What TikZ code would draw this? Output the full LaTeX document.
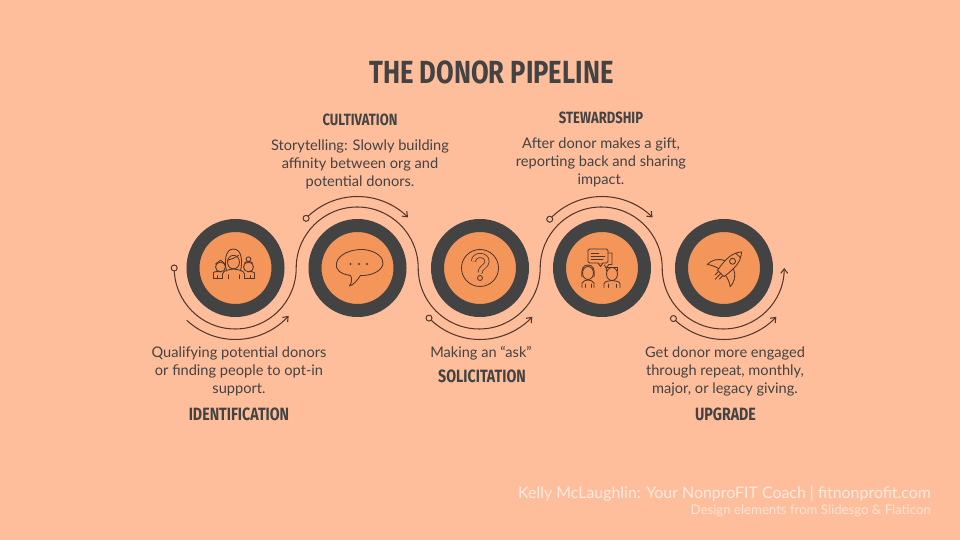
\documentclass[tikz,border=0pt]{standalone}
\usepackage{fontspec}
\setmainfont{Lato}
\newfontfamily\headbold[FakeStretch=0.8]{Fira Sans Bold}
\usetikzlibrary{arrows.meta,calc}
\definecolor{bgc}{HTML}{FFBE9B}
\definecolor{ringc}{HTML}{434343}
\definecolor{fillc}{HTML}{F4965A}
\definecolor{wirec}{HTML}{55362A}
\definecolor{footc}{HTML}{FFEADF}
\definecolor{footd}{HTML}{FFE4D4}
\tikzset{
  x=1pt,y=1pt,
  ringnode/.style={circle,draw=ringc,line width=13pt,fill=fillc,minimum size=85pt,inner sep=0pt},
  wire/.style={draw=wirec,line width=1.05pt},
  wiretip/.style={wire,-{Straight Barb[length=4.5pt,width=7pt,line width=1.05pt]}},
  dotend/.style={circle,draw=wirec,fill=bgc,line width=1pt,minimum size=6pt,inner sep=0pt},
  bodytext/.style={align=center,text=ringc,inner sep=0pt,font=\fontsize{14.6}{18}\selectfont},
  headtext/.style={align=center,text=ringc,inner sep=0pt,font=\headbold\fontsize{17.8}{20}\selectfont},
  headsmall/.style={headtext,font=\headbold\fontsize{16.3}{20}\selectfont},
  icon/.style={draw=wirec,line width=0.85pt,line cap=round,line join=round},
}
\begin{document}
\begin{tikzpicture}
\useasboundingbox (0,0) rectangle (960,540);
\fill[bgc] (0,0) rectangle (960,540);

% rings
\node[ringnode] (c1) at (235.5,272) {};
\node[ringnode] (c2) at (357.5,272) {};
\node[ringnode] (c3) at (480,272) {};
\node[ringnode] (c4) at (602,272) {};
\node[ringnode] (c5) at (724,272) {};

% serpentine
\coordinate (wstart) at ($(c1)+(-61.3,0)$);
\draw[wiretip] (wstart)
  arc[start angle=180,end angle=360,radius=61]
  arc[start angle=180,end angle=0,radius=61]
  arc[start angle=180,end angle=360,radius=61]
  arc[start angle=180,end angle=0,radius=61]
  arc[start angle=180,end angle=360,radius=61];
\node[dotend] (d1) at (wstart) {};

% outer arcs
\draw[wiretip] ($(c1)+(227:71.5)$) arc[start angle=227,end angle=318,radius=71.5];
\draw[wiretip] ($(c2)+(136:71.5)$) arc[start angle=136,end angle=45,radius=71.5];
\draw[wiretip] ($(c3)+(224.5:71.5)$) arc[start angle=224.5,end angle=317,radius=71.5];
\draw[wiretip] ($(c4)+(137:71.5)$) arc[start angle=137,end angle=45,radius=71.5];
\draw[wiretip] ($(c5)+(225:71.5)$) arc[start angle=225,end angle=317,radius=71.5];
\node[dotend] (d2) at ($(c2)+(136:71.5)$) {};
\node[dotend] (d3) at ($(c3)+(224.5:71.5)$) {};
\node[dotend] (d4) at ($(c4)+(137:71.5)$) {};
\node[dotend] (d5) at ($(c5)+(225:71.5)$) {};

% icon 1: people
\begin{scope}[shift={(c1)},shift={(0,2)},yscale=0.97,icon]
  \draw (-9,-5) .. controls (-11,3) and (-11,17.5) .. (-2,17.5) .. controls (7,17.5) and (7,3) .. (5,-5);
  \draw (-2,4) circle[x radius=6,y radius=7];
  \draw (-8,6) .. controls (-4,7) and (1,9) .. (3,11);
  \draw (-13,-13) -- (-13,-8) .. controls (-12,-4) and (-6,-4) .. (-2,-3) .. controls (2,-4) and (8,-4) .. (9,-8) -- (9,-13);
  \draw (-7,-13) -- (-7,-9) (4,-13) -- (4,-9);
  \draw (-15,-1) circle[radius=5];
  \draw (-20,2) -- (-15,6) -- (-10,2);
  \draw (-22,-13) -- (-22,-7) .. controls (-21,-5) and (-17,-6) .. (-14,-6);
  \draw (-22,-13) -- (-13,-13) (-18,-13) -- (-18,-10);
  \draw (13,-1) circle[radius=5];
  \draw (13,7) circle[radius=2.4];
  \draw (9,3) .. controls (10,5) and (16,5) .. (17,3);
  \draw (19,-13) -- (19,-7) .. controls (18,-5) and (15,-6) .. (12,-6);
  \draw (9,-13) -- (19,-13) (15,-13) -- (15,-10);
\end{scope}

% icon 2: speech bubble
\begin{scope}[shift={(c2)},icon]
  \draw (-7,-7.5) .. controls (-18,-6) and (-22.5,-1) .. (-21,5) .. controls (-19,14) and (-6,19) .. (6,18.5) .. controls (20,17) and (26,10) .. (25.5,4) .. controls (24,-4) and (12,-8) .. (3,-7.5) .. controls (0,-12) and (-4,-17) .. (-8,-18) .. controls (-6,-15) and (-5,-11) .. (-7,-7.5);
  \fill[wirec,draw=none] (-7,4) circle[radius=1.1] (1.5,4) circle[radius=1.1] (9.5,4) circle[radius=1.1];
\end{scope}

% icon 3: question mark
\begin{scope}[shift={(c3)},icon]
  \draw (0,0) circle[radius=18.5];
  \draw[line width=5pt,line cap=butt] (-6.5,6.5) .. controls (-6.5,14.5) and (7,14.5) .. (7,6.5) .. controls (7,1.5) and (0,1) .. (0,-5);
  \draw[line width=3.4pt,draw=fillc,line cap=butt] (-6.5,6.5) .. controls (-6.5,14.5) and (7,14.5) .. (7,6.5) .. controls (7,1.5) and (0,1) .. (0,-5);
  \draw (0,-10) circle[radius=2.5];
\end{scope}

% icon 4: two people talking
\begin{scope}[shift={(c4)},icon]
  \draw[rounded corners=1.5pt] (-14,19) rectangle (6,5);
  \fill[fillc,draw=none] (-4,5.5) rectangle (1,4.5);
  \draw (-4,5) -- (-1.5,1.5) -- (1,5);
  \draw (6,15) -- (10,15) -- (10,3.5) -- (7,3.5) -- (4,0) -- (2.5,3);
  \draw (-11,15) -- (-3,15) (-11,12) -- (3,12) (-11,9) -- (1,9);
  \draw (-14,-5) circle[x radius=5.5,y radius=6.5];
  \draw (-20,-9) .. controls (-21,-1) and (-19,3) .. (-14,3) .. controls (-9,3) and (-7,-1) .. (-8,-9);
  \draw (-20,-19.5) -- (-20,-15) .. controls (-19,-13) and (-16,-12) .. (-14,-12) .. controls (-12,-12) and (-9,-13) .. (-8,-15) -- (-8,-19.5);
  \draw (-17,-19.5) -- (-17,-16) (-11,-19.5) -- (-11,-16);
  \draw (10,-6) circle[x radius=5.5,y radius=6.5];
  \draw (4.5,-3) -- (4.5,1) -- (15.5,1) -- (15.5,-3);
  \draw (2,-19.5) -- (2,-15.5) .. controls (3,-13) and (7,-13) .. (10,-12.5) .. controls (13,-13) and (17,-13) .. (18,-15.5) -- (18,-19.5);
  \draw (6,-19.5) -- (6,-16) (14,-19.5) -- (14,-16);
\end{scope}

% icon 5: rocket
\begin{scope}[shift={(c5)},shift={(3,1)},rotate=-44,icon]
  \draw (0,21) .. controls (6,14) and (7,6) .. (4.5,-9) -- (-4.5,-9) .. controls (-7,6) and (-6,14) .. (0,21);
  \draw (-3.5,16) -- (3.5,16);
  \draw (0,8) circle[radius=3];
  \draw (-6,3) .. controls (-13,0) and (-16,-6) .. (-16,-12) .. controls (-12,-9) and (-9,-8) .. (-5,-7);
  \draw (6,3) .. controls (13,0) and (16,-6) .. (16,-12) .. controls (12,-9) and (9,-8) .. (5,-7);
  \draw (-3,-9) -- (-3,-14) (0,-9) -- (0,-17) (3,-9) -- (3,-14);
\end{scope}

% texts
\node[text=ringc,inner sep=0pt,font=\headbold\fontsize{32}{36}\selectfont] (title) at (491.5,467.5) {THE DONOR PIPELINE};

\node[headsmall] (hcult) at (360,420) {CULTIVATION};
\node[bodytext] (bcult) at (360,375.5) {Storytelling: Slowly building\\affinity between org and\\potential donors.};
\node[headsmall] (hstew) at (601,422) {STEWARDSHIP};
\node[bodytext] (bstew) at (601,377.5) {After donor makes a gift,\\reporting back and sharing\\impact.};

\node[bodytext] (bid) at (239,168.5) {Qualifying potential donors\\or finding people to opt-in\\support.};
\node[headtext] (hid) at (239,125.5) {IDENTIFICATION};
\node[bodytext] (bsol) at (481,187) {Making an “ask”};
\node[headtext] (hsol) at (482,163.5) {SOLICITATION};
\node[bodytext] (bup) at (725,169) {Get donor more engaged\\through repeat, monthly,\\major, or legacy giving.};
\node[headtext] (hup) at (725.5,125.5) {UPGRADE};

\node[anchor=east,inner sep=0pt,text=footc,font=\fontsize{15.9}{18}\selectfont] (f1) at (931,46) {Kelly McLaughlin: Your NonproFIT Coach | fitnonprofit.com};
\node[anchor=east,inner sep=0pt,text=footd,font=\fontsize{13.2}{15}\selectfont] (f2) at (931,29) {Design elements from Slidesgo \& Flaticon};
\end{tikzpicture}
\end{document}
